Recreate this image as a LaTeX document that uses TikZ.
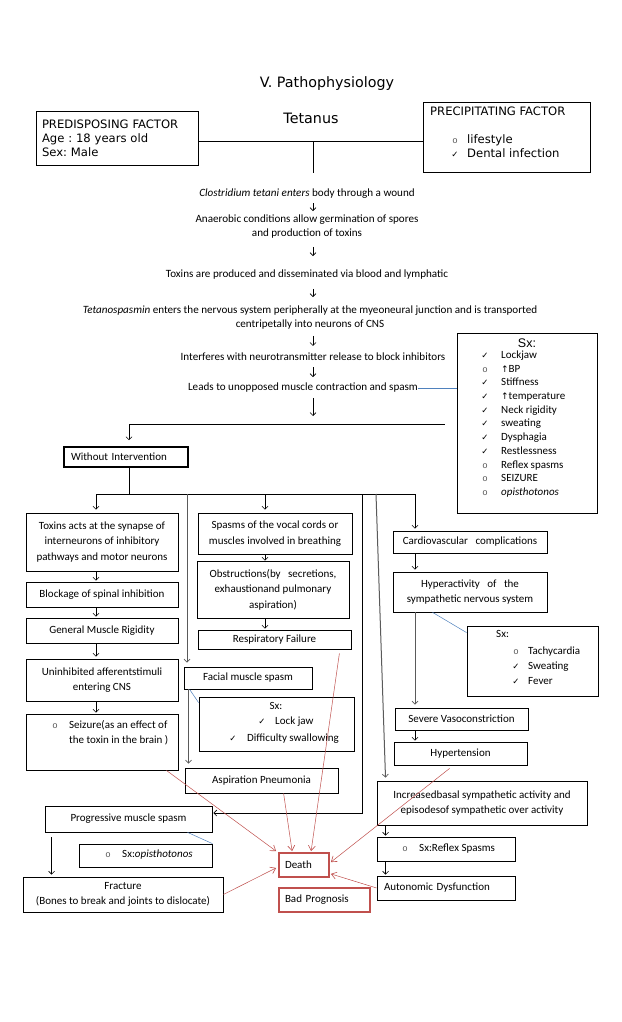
\documentclass[tikz,border=0pt]{standalone}
\usepackage{fontspec}
\setmainfont{Carlito}
\newfontfamily\verd{DejaVu Sans}
\newfontfamily\ari{Liberation Sans}
\newfontfamily\mono{Liberation Mono}
\usetikzlibrary{arrows.meta,calc}
\definecolor{dred}{RGB}{192,80,77}
\definecolor{lblue}{RGB}{79,129,189}
\definecolor{lgray}{RGB}{90,90,90}
\frenchspacing
\newcommand\fs{\fontsize{11}{15.5}\selectfont}
\newcommand\ff{\fontsize{11.1}{14}\selectfont}
\newcommand\vf{\verd\fontsize{11.6}{14}\selectfont}
\newcommand\bo{{\mono\fontsize{9}{9}\selectfont\color{black!65}o}}
\newcommand\ck{{\verd\fontsize{8.5}{8.5}\selectfont ✓}}
\newcommand\upa{{\verd\fontsize{9}{9}\selectfont ↑}}
\newcommand\mybox[7][]{\node[box,minimum width={#5-#3},minimum height={#6-#4},#1] (#2) at ({(#3+#5)/2},{(#4+#6)/2}) {#7};}
\begin{document}
\begin{tikzpicture}[x=1pt,y=-1pt,
  box/.style={draw,line width=0.8pt,inner sep=0pt,align=center,font=\fs},
  tx/.style={inner sep=0pt,font=\fs,text height=8pt,text depth=2.5pt},
  fl/.style={inner sep=0pt,font=\ff,align=center},
  arr/.style={line width=0.6pt,-{Straight Barb[length=3pt,width=6pt,line width=0.6pt]}},
  garr/.style={draw=lgray,line width=1pt,-{Straight Barb[length=3pt,width=6pt,line width=0.7pt]}},
  rarr/.style={draw=dred,line width=0.5pt,-{Straight Barb[length=5pt,width=7pt,line width=0.6pt]}},
  blu/.style={draw=lblue,line width=0.5pt},
  rbox/.style={draw=dred,line width=1.8pt}]
\fill[white] (0,0) rectangle (621,1022);
\useasboundingbox (0,0) rectangle (621,1022);

% title
\node[inner sep=0pt,font=\verd\fontsize{14.3}{16}\selectfont] (title) at (327,84) {V. Pathophysiology};
\node[inner sep=0pt,font=\verd\fontsize{14.3}{16}\selectfont] (tet) at (311,118) {Tetanus};

% factors
\mybox[align=left,text width=150pt,inner xsep=6pt,font=\vf]{pre}{36}{111}{198}{165}{PREDISPOSING FACTOR\\Age : 18 years old\\Sex: Male}
\mybox{prec}{423}{102}{590}{172}{}
\node[tx,anchor=west,font=\vf] (precT) at (430,113) {PRECIPITATING FACTOR};
\node[tx] (precb1) at (455,141) {\bo};
\node[tx,anchor=west,font=\vf] (prec1) at (467,141) {lifestyle};
\node[tx] (precb2) at (455,155) {\ck};
\node[tx,anchor=west,font=\vf] (prec2) at (467,155) {Dental infection};
\coordinate (j0) at (313,141);
\coordinate (j0b) at (313,173);
\draw[line width=0.8pt] (pre.east |- j0) -- (prec.west |- j0);
\draw[line width=0.8pt] (j0) -- (j0b);

% main flow
\node[fl] (t1) at (307,194) {\textit{Clostridium tetani enters} body through a wound};
\node[fl] (t2) at (307,227) {Anaerobic conditions allow germination of spores\\and production of toxins};
\node[fl] (t3) at (307,275) {Toxins are produced and disseminated via blood and lymphatic};
\node[fl] (t4) at (310,318) {\textit{Tetanospasmin} enters the nervous system peripherally at the myeoneural junction and is transported\\centripetally into neurons of CNS};
\node[fl] (t5) at (313,357) {Interferes with neurotransmitter release to block inhibitors};
\node[fl] (t6) at (303,388) {Leads to unopposed muscle contraction and spasm};
\draw[arr,shorten <=4pt,shorten >=4pt] (t1.south -| j0) -- (t2.north -| j0);
\draw[arr,shorten <=8pt,shorten >=14pt] (t2.south -| j0) -- (t3.north -| j0);
\draw[arr,shorten <=9pt,shorten >=9pt] (t3.south -| j0) -- (t4.north -| j0);
\draw[arr,shorten <=6pt,shorten >=7pt] (t4.south -| j0) -- (t5.north -| j0);
\draw[arr,shorten <=6pt,shorten >=6pt] (t5.south -| j0) -- (t6.north -| j0);

% big Sx box
\mybox{sx1}{457}{333}{597}{513}{}
\node[inner sep=0pt,font=\ari\fontsize{12.5}{14}\selectfont] (sxh) at (527,343) {Sx:};
\foreach \m/\t [count=\i] in {\ck/Lockjaw,\bo/\upa BP,\ck/Stiffness,\ck/\upa temperature,\ck/Neck rigidity,\ck/sweating,\ck/Dysphagia,\ck/Restlessness,\bo/Reflex spasms,\bo/SEIZURE,\bo/\textit{opisthotonos}}{
  \node[tx] (sxb\i) at (485,{342+13.7*\i}) {\m};
  \node[tx,anchor=west] (sxt\i) at (501,{342+13.7*\i}) {\t};
}
\draw[blu] (t6.east) -- (sx1.west |- t6.east);

% split
\coordinate (j1) at (129,424);
\coordinate (j1r) at (445,424);
\draw[line width=0.8pt] (j1) -- (j1r);
\draw[arr,shorten <=5pt,shorten >=8pt] (t6.south -| j0) -- (j1 -| j0);
\mybox[line width=1.7pt,align=left,text width=110pt,inner xsep=7pt]{wi}{64}{447}{188}{467}{Without Intervention}
\draw[arr,shorten >=6pt] (j1) -- (wi.north -| j1);
\coordinate (j2) at (129,494);
\draw[line width=0.8pt] (wi.south -| j2) -- (j2);
\coordinate (j2l) at (96,494);
\coordinate (j2a) at (187,494);
\coordinate (j2b) at (265,494);
\coordinate (j2c) at (362,494);
\coordinate (j2d) at (376,494);
\coordinate (j2r) at (415,494);
\draw[line width=0.8pt] (j2l) -- (j2r);

% left column
\mybox{b1}{26}{513}{178}{571}{Toxins acts at the synapse of\\interneurons of inhibitory\\pathways and motor neurons}
\mybox{b2}{26}{582}{178}{607}{Blockage of spinal inhibition}
\mybox{b3}{26}{618}{178}{643}{General Muscle Rigidity}
\mybox{b4}{26}{659}{178}{701}{Uninhibited afferentstimuli\\entering CNS}
\mybox{b5}{26}{714}{178}{770}{}
\node[tx] (szb) at (55,726) {\bo};
\node[tx,anchor=west] (sz1) at (69,726) {Seizure(as an effect of};
\node[tx,anchor=west] (sz2) at (69,741) {the toxin in the brain )};
\draw[arr,shorten >=3pt] (j2l) -- (b1.north -| j2l);
\draw[arr,shorten >=1pt] (b1.south -| j2l) -- (b2.north -| j2l);
\draw[arr,shorten >=1pt] (b2.south -| j2l) -- (b3.north -| j2l);
\draw[arr,shorten >=2pt] (b3.south -| j2l) -- (b4.north -| j2l);
\draw[arr,shorten >=1pt] (b4.south -| j2l) -- (b5.north -| j2l);

\mybox{pm}{45}{806}{212}{832}{Progressive muscle spasm}
\mybox{so1}{79}{844}{212}{867}{}
\node[tx] (sob) at (108,855) {\bo};
\node[tx,anchor=west] (sot) at (122,855) {Sx:\textit{opisthotonos}};
\draw[blu] ($(pm.south west)+(143,0)$) -- (so1.north east);
\mybox{fr}{23}{877}{223}{912}{Fracture\\(Bones to break and joints to dislocate)}
\draw[arr,shorten <=5pt,shorten >=2pt] ($(pm.south west)+(7,0)$) -- ($(fr.north west)+(29,0)$);

% middle column
\mybox{s1}{198}{513}{352}{554}{Spasms of the vocal cords or\\muscles involved in breathing}
\mybox{s2}{197}{561}{349}{618}{Obstructions(by\ \ \ secretions,\\exhaustionand pulmonary\\aspiration)}
\mybox{s3}{198}{630}{351}{649}{Respiratory Failure}
\draw[arr,shorten >=3pt] (j2b) -- (s1.north -| j2b);
\draw[arr] (s1.south -| j2b) -- (s2.north -| j2b);
\draw[arr,shorten >=1pt] (s2.south -| j2b) -- (s3.north -| j2b);

\mybox{fm}{184}{667}{312}{689}{Facial muscle spasm}
\draw[garr,shorten >=4pt] (j2a) -- (fm.north -| j2a);
\mybox{lj}{199}{697}{354}{751}{}
\node[tx] (ljh) at (276,707) {Sx:};
\node[tx] (ljb1) at (262,722) {\ck};
\node[tx,anchor=west] (ljt1) at (275,722) {Lock jaw};
\node[tx] (ljb2) at (233,739) {\ck};
\node[tx,anchor=west] (ljt2) at (247,739) {Difficulty swallowing};
\draw[blu] ($(fm.south west)+(6,0)$) -- ($(lj.north west)+(0,6)$);
\mybox{asp}{185}{768}{338}{793}{Aspiration Pneumonia}
\draw[garr,shorten >=4pt] ($(fm.south west)+(5,0)$) -- ($(asp.north west)+(4,0)$);

\coordinate (j3) at (362,813);
\draw[arr,shorten >=1pt] (j2c) -- (j3) -- (j3 -| pm.east);

% right column
\mybox{cv}{393}{531}{547}{553}{Cardiovascular\ \ \ complications}
\mybox{hy}{393}{572}{547}{612}{Hyperactivity\ \ \ of\ \ \ the\\sympathetic nervous system}
\draw[arr,shorten >=2pt] (j2r) -- (cv.north -| j2r);
\draw[arr,shorten >=2pt] (cv.south -| j2r) -- (hy.north -| j2r);
\mybox{tc}{467}{626}{598}{696}{}
\node[tx,anchor=west] (tch) at (496,635) {Sx:};
\node[tx] (tcb1) at (516,652) {\bo};
\node[tx,anchor=west] (tct1) at (528,652) {Tachycardia};
\node[tx] (tcb2) at (516,667) {\ck};
\node[tx,anchor=west] (tct2) at (528,667) {Sweating};
\node[tx] (tcb3) at (516,682) {\ck};
\node[tx,anchor=west] (tct3) at (528,682) {Fever};
\draw[blu] ($(hy.south west)+(40,0)$) -- ($(tc.north west)+(0,7)$);
\mybox{sv}{395}{708}{528}{730}{Severe Vasoconstriction}
\draw[garr,shorten >=3pt] (hy.south -| j2r) -- (sv.north -| j2r);
\mybox{ht}{394}{742}{527}{765}{Hypertension}
\draw[arr,shorten >=1pt] (sv.south -| j2r) -- (ht.north -| j2r);
\mybox{ib}{377}{781}{587}{825}{Increasedbasal sympathetic activity and\\episodesof sympathetic over activity}
\draw[garr,shorten >=3pt] (j2d) -- ($(ib.north west)+(9,0)$);
\mybox{rs}{377}{837}{515}{861}{}
\node[tx] (rsb) at (405,849) {\bo};
\node[tx,anchor=west] (rst) at (419,849) {Sx:Reflex Spasms};
\mybox[align=left,text width=124pt,inner xsep=7pt]{ad}{377}{876}{515}{900}{Autonomic Dysfunction}
\draw[arr,shorten >=1pt] ($(ib.south west)+(9,0)$) -- ($(rs.north west)+(9,0)$);
\draw[arr,shorten >=1pt] ($(rs.south west)+(9,0)$) -- ($(ad.north west)+(9,0)$);

% outcome
\mybox[rbox,align=left,text width=38pt,inner xsep=6pt]{de}{279}{853}{329}{877}{Death}
\mybox[rbox,align=left,text width=79pt,inner xsep=6pt]{bp}{279}{888}{370}{912}{Bad Prognosis}
\draw[rarr] ($(b5.south east)+(-12,0)$) -- ($(de.north west)+(-2,-1)$);
\draw[rarr] ($(asp.south west)+(99,0)$) -- ($(de.north west)+(14,-1)$);
\draw[rarr] ($(s3.south east)+(-12,4)$) -- ($(de.north west)+(33,-1)$);
\draw[rarr] ($(ht.south west)+(56,3)$) -- ($(de.north east)+(1,10)$);
\draw[rarr] (ad.west) -- ($(de.south east)+(1,-4)$);
\draw[rarr] (fr.east) -- ($(de.south west)+(-2,-10)$);
\end{tikzpicture}
\end{document}
